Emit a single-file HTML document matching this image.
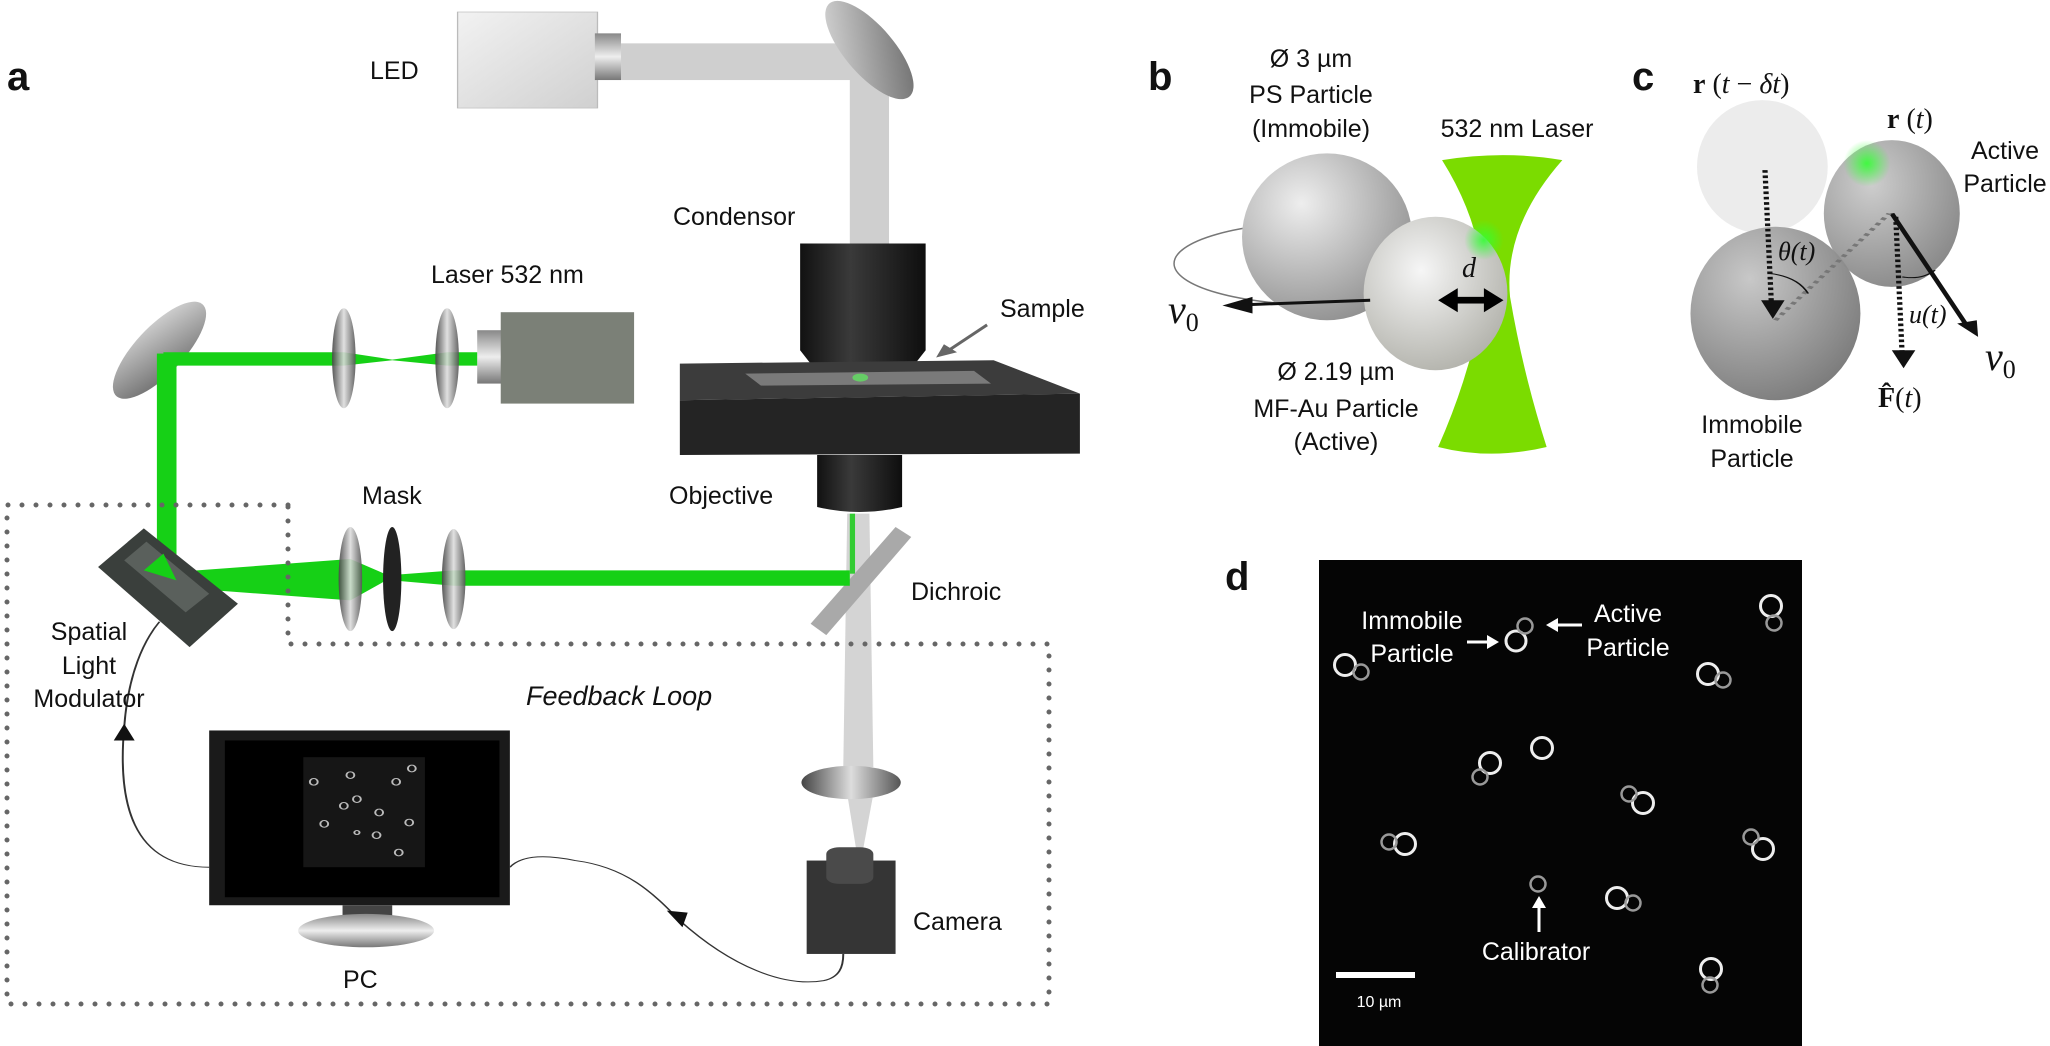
<!DOCTYPE html>
<html><head><meta charset="utf-8"><style>
html,body{margin:0;padding:0;background:#fff;}
#w{position:relative;width:2050px;height:1046px;overflow:hidden;}
svg{position:absolute;left:0;top:0;}
.t{font-family:"Liberation Sans",Arial,sans-serif;font-size:25px;fill:#111;}
.s{font-family:"Liberation Serif",serif;fill:#111;}
</style></head><body><div id="w">
<svg width="2050" height="1046" viewBox="0 0 1568 1568" preserveAspectRatio="none">
<defs>
<linearGradient id="led" x1="0" y1="0" x2="1" y2="1"><stop offset="0" stop-color="#f2f2f2"/><stop offset="1" stop-color="#d0d0d0"/></linearGradient>
<linearGradient id="cyl" x1="0" y1="0" x2="0" y2="1"><stop offset="0" stop-color="#888"/><stop offset=".5" stop-color="#eee"/><stop offset="1" stop-color="#777"/></linearGradient>
<linearGradient id="blk" x1="0" y1="0" x2="1" y2="0"><stop offset="0" stop-color="#111"/><stop offset=".4" stop-color="#3a3a3a"/><stop offset="1" stop-color="#0e0e0e"/></linearGradient>
<linearGradient id="mir" x1="0" y1="0" x2="1" y2="1"><stop offset="0" stop-color="#ddd"/><stop offset="1" stop-color="#666"/></linearGradient>
<linearGradient id="lens" x1="0" y1="0" x2="1" y2="0"><stop offset="0" stop-color="#444"/><stop offset=".5" stop-color="#ddd"/><stop offset="1" stop-color="#555"/></linearGradient>
<radialGradient id="sph" cx=".35" cy=".3" r=".8"><stop offset="0" stop-color="#eee"/><stop offset="1" stop-color="#8a8a8a"/></radialGradient>
<radialGradient id="sphw" cx=".4" cy=".35" r=".8"><stop offset="0" stop-color="#f6f6f6"/><stop offset="1" stop-color="#a8a8a0"/></radialGradient>
<radialGradient id="sphd" cx=".35" cy=".3" r=".8"><stop offset="0" stop-color="#c8c8c8"/><stop offset="1" stop-color="#777"/></radialGradient>
<radialGradient id="glow"><stop offset="0" stop-color="#3f3" stop-opacity=".9"/><stop offset="1" stop-color="#3f3" stop-opacity="0"/></radialGradient>
</defs>
<rect x="475" y="65" width="190" height="55" fill="#cfcfcf"/>
<rect x="650" y="75" width="30" height="295" fill="#cfcfcf"/>
<rect x="350" y="18" width="107" height="144" fill="url(#led)" stroke="#bbb"/>
<rect x="455" y="50" width="20" height="70" fill="url(#cyl)"/>
<ellipse cx="665" cy="75" rx="22" ry="78" transform="rotate(-20 665 75)" fill="url(#mir)"/>
<path d="M612,365 H708 V525 L700,545 H620 L612,525 Z" fill="url(#blk)"/>
<path d="M755,487 L722,530" stroke="#666" stroke-width="3" vector-effect="non-scaling-stroke"/>
<polygon points="716,536 722,516 732,528" fill="#666"/>
<polygon points="520,545 760,540 826,590 520,600" fill="#3c3c3c"/>
<polygon points="520,600 826,590 826,680 520,682" fill="#242424"/>
<polygon points="570,560 745,556 758,575 582,578" fill="#7a7a7a"/>
<ellipse cx="658" cy="566" rx="6" ry="6" fill="#6c6"/>
<path d="M625,682 H690 V760 Q657,775 625,760 Z" fill="url(#blk)"/>
<polygon points="648,770 665,770 668,1150 645,1150" fill="#d4d4d4"/>
<polygon points="648,1190 668,1190 660,1275 655,1275" fill="#d4d4d4"/>
<rect x="650" y="770" width="4" height="90" fill="#3c3"/>
<polygon points="620,935 685,790 697,805 632,952" fill="#a9a9a9"/>
<ellipse cx="651" cy="1173" rx="38" ry="25" fill="url(#lens)"/>
<rect x="617" y="1290" width="68" height="140" fill="#353535"/>
<rect x="632" y="1270" width="36" height="55" rx="10" fill="#4a4a4a"/>
<rect x="365" y="495" width="22" height="80" fill="url(#cyl)"/>
<rect x="383" y="468" width="102" height="137" fill="#7b8077"/>
<ellipse cx="122" cy="525" rx="22" ry="78" transform="rotate(22 122 525)" fill="url(#mir)"/>
<polygon points="125,528 263,528 300,539 342,528 365,528 365,548 342,548 300,540 263,548 125,548" fill="#16d016"/>
<rect x="120" y="530" width="15" height="335" fill="#16d016"/>
<polygon points="130,858 268,838 300,865 268,900 130,880" fill="#16d016"/>
<polygon points="300,862 347,855 650,855 650,878 347,878 300,870" fill="#16d016"/>
<ellipse cx="263" cy="537" rx="9" ry="75" fill="url(#lens)" opacity=".9"/>
<ellipse cx="342" cy="537" rx="9" ry="75" fill="url(#lens)" opacity=".9"/>
<ellipse cx="268" cy="868" rx="9" ry="78" fill="url(#lens)" opacity=".9"/>
<ellipse cx="300" cy="868" rx="7" ry="78" fill="#222"/>
<ellipse cx="347" cy="868" rx="9" ry="75" fill="url(#lens)" opacity=".9"/>
<polygon points="75,850 110,792 182,905 145,970" fill="#3a3f3c"/>
<polygon points="95,840 112,812 160,890 142,918" fill="#5a605c"/>
<polygon points="110,855 125,830 135,870" fill="#16d016"/>
<rect x="160" y="1095" width="230" height="262" fill="#1a1a1a"/>
<rect x="172" y="1110" width="210" height="235" fill="#000"/>
<rect x="232" y="1135" width="93" height="165" fill="#161616"/>
<rect x="262" y="1357" width="38" height="25" fill="#444"/>
<ellipse cx="280" cy="1395" rx="52" ry="25" fill="url(#cyl)"/>
<g fill="none" stroke="#bbb" stroke-width="1.5" vector-effect="non-scaling-stroke">
<ellipse cx="240" cy="1172" rx="3" ry="5"/><ellipse cx="268" cy="1162" rx="3" ry="5"/><ellipse cx="315" cy="1152" rx="3" ry="5"/><ellipse cx="303" cy="1172" rx="3" ry="5"/><ellipse cx="273" cy="1198" rx="3" ry="5"/><ellipse cx="263" cy="1208" rx="3" ry="5"/><ellipse cx="290" cy="1218" rx="3" ry="5"/><ellipse cx="248" cy="1235" rx="3" ry="5"/><ellipse cx="313" cy="1233" rx="3" ry="5"/><ellipse cx="288" cy="1252" rx="3" ry="5"/><ellipse cx="305" cy="1278" rx="3" ry="5"/><ellipse cx="273" cy="1248" rx="2" ry="3"/>
</g>
<g fill="none" stroke="#333" stroke-width="1.5" vector-effect="non-scaling-stroke">
<path d="M160,1300 C100,1300 90,1200 95,1090 C98,1010 110,960 122,932"/>
<path d="M390,1300 C400,1280 420,1282 440,1290 C480,1300 500,1340 520,1380 C560,1450 600,1480 630,1470 C642,1465 645,1450 645,1430"/>
</g>
<polygon points="95,1085 87,1110 103,1110" fill="#111"/>
<polygon points="522,1390 510,1365 526,1368" fill="#111"/>
<ellipse cx="1010" cy="395" rx="112" ry="62" fill="none" stroke="#777" stroke-width="1.5" vector-effect="non-scaling-stroke"/>
<ellipse cx="1015" cy="355" rx="65" ry="125" fill="url(#sph)"/>
<path d="M1103,240 Q1150,225 1195,240 Q1150,340 1155,445 Q1165,560 1183,670 Q1140,690 1100,670 Q1125,560 1135,445 Q1135,340 1103,240 Z" fill="#7bdc00"/>
<ellipse cx="1098" cy="440" rx="55" ry="115" fill="url(#sphw)"/>
<ellipse cx="1135" cy="360" rx="15" ry="30" fill="url(#glow)"/>
<path d="M1048,450 L950,457" stroke="#111" stroke-width="3" vector-effect="non-scaling-stroke"/>
<polygon points="935,458 958,445 958,470" fill="#111"/>
<rect x="1110" y="445" width="28" height="10" fill="#000"/>
<polygon points="1100,450 1115,432 1115,468" fill="#000"/><polygon points="1150,450 1135,432 1135,468" fill="#000"/>
<ellipse cx="1348" cy="250" rx="50" ry="100" fill="#ececec"/>
<ellipse cx="1358" cy="470" rx="65" ry="130" fill="url(#sphd)"/>
<ellipse cx="1447" cy="320" rx="52" ry="110" fill="url(#sphd)" opacity=".9"/>
<ellipse cx="1428" cy="245" rx="18" ry="35" fill="url(#glow)"/>
<g stroke="#111" stroke-width="4" vector-effect="non-scaling-stroke" fill="none">
<path d="M1350,255 L1355,460" stroke-dasharray="4 4"/>
<path d="M1450,325 L1455,535" stroke-dasharray="4 4"/>
<path d="M1447,320 L1505,490"/>
<path d="M1358,480 L1445,320" stroke="#777" stroke-dasharray="4 5"/>
<path d="M1354,410 Q1375,415 1383,440" stroke-width="1.5"/>
<path d="M1455,415 Q1470,420 1480,405" stroke-width="1.5"/>
</g>
<polygon points="1356,478 1347,450 1365,450" fill="#111"/>
<polygon points="1456,552 1447,525 1465,525" fill="#111"/>
<polygon points="1513,505 1497,485 1512,480" fill="#111"/>
</svg>
<svg width="2050" height="1046" viewBox="0 0 2050 1046">
<path d="M288,505 H7 V1004 H1049 V644 H288 Z" fill="none" stroke="#666" stroke-width="5" stroke-linecap="round" stroke-dasharray="0 14"/>
<text class="t" x="7" y="90" style="font-size:40px;font-weight:bold">a</text>
<text class="t" x="370" y="79">LED</text>
<text class="t" x="673" y="225">Condensor</text>
<text class="t" x="431" y="283">Laser 532 nm</text>
<text class="t" x="1000" y="317">Sample</text>
<text class="t" x="362" y="504">Mask</text>
<text class="t" x="669" y="504">Objective</text>
<text class="t" x="911" y="600">Dichroic</text>
<text class="t" x="89" y="640" text-anchor="middle">Spatial</text>
<text class="t" x="89" y="674" text-anchor="middle">Light</text>
<text class="t" x="89" y="707" text-anchor="middle">Modulator</text>
<text class="t" x="526" y="705" style="font-style:italic;font-size:27px">Feedback Loop</text>
<text class="t" x="913" y="930">Camera</text>
<text class="t" x="343" y="988">PC</text>
<text class="t" x="1148" y="90" style="font-size:40px;font-weight:bold">b</text>
<text class="t" x="1311" y="67" text-anchor="middle">Ø 3 µm</text>
<text class="t" x="1311" y="103" text-anchor="middle">PS Particle</text>
<text class="t" x="1311" y="137" text-anchor="middle">(Immobile)</text>
<text class="t" x="1517" y="137" text-anchor="middle">532 nm Laser</text>
<text class="s" x="1168" y="323" style="font-size:40px;font-style:italic">v<tspan font-size="26" dy="8" font-style="normal">0</tspan></text>
<text class="s" x="1462" y="277" style="font-size:28px;font-style:italic">d</text>
<text class="t" x="1336" y="380" text-anchor="middle">Ø 2.19 µm</text>
<text class="t" x="1336" y="417" text-anchor="middle">MF-Au Particle</text>
<text class="t" x="1336" y="450" text-anchor="middle">(Active)</text>
<text class="t" x="1632" y="90" style="font-size:40px;font-weight:bold">c</text>
<text class="s" x="1693" y="93" style="font-size:28px"><tspan font-weight="bold">r</tspan> (<tspan font-style="italic">t</tspan> − <tspan font-style="italic">δt</tspan>)</text>
<text class="s" x="1887" y="128" style="font-size:28px"><tspan font-weight="bold">r</tspan> (<tspan font-style="italic">t</tspan>)</text>
<text class="t" x="2005" y="159" text-anchor="middle">Active</text>
<text class="t" x="2005" y="192" text-anchor="middle">Particle</text>
<text class="s" x="1778" y="260" style="font-size:26px;font-style:italic">θ(t)</text>
<text class="s" x="1909" y="323" style="font-size:26px;font-style:italic">u(t)</text>
<text class="s" x="1985" y="370" style="font-size:40px;font-style:italic">v<tspan font-size="26" dy="8" font-style="normal">0</tspan></text>
<text class="s" x="1878" y="407" style="font-size:28px"><tspan font-weight="bold">F̂</tspan>(<tspan font-style="italic">t</tspan>)</text>
<text class="t" x="1752" y="433" text-anchor="middle">Immobile</text>
<text class="t" x="1752" y="467" text-anchor="middle">Particle</text>
<text class="t" x="1225" y="590" style="font-size:40px;font-weight:bold">d</text>
<rect x="1319" y="560" width="483" height="486" fill="#050505"/>
<g fill="none">
<g stroke="#eee" stroke-width="3">
<circle cx="1345" cy="665" r="10.5"/><circle cx="1516" cy="641" r="10"/><circle cx="1771" cy="606" r="10.5"/><circle cx="1708" cy="674" r="10.5"/><circle cx="1542" cy="748" r="10.5"/><circle cx="1490" cy="763" r="10.5"/><circle cx="1643" cy="803" r="10.5"/><circle cx="1405" cy="844" r="10.5"/><circle cx="1763" cy="849" r="10.5"/><circle cx="1617" cy="898" r="10.5"/><circle cx="1711" cy="969" r="10.5"/>
</g>
<g stroke="#999" stroke-width="2.5">
<circle cx="1361" cy="672" r="7.5"/><circle cx="1525" cy="626" r="7.5"/><circle cx="1774" cy="623" r="7.5"/><circle cx="1723" cy="680" r="7.5"/><circle cx="1480" cy="777" r="7.5"/><circle cx="1629" cy="794" r="7.5"/><circle cx="1389" cy="842" r="7.5"/><circle cx="1751" cy="837" r="7.5"/><circle cx="1538" cy="884" r="7.5"/><circle cx="1633" cy="903" r="7.5"/><circle cx="1710" cy="985" r="7.5"/>
</g>
</g>
<g stroke="#fff" stroke-width="3"><path d="M1467,642 H1490"/><path d="M1582,625 H1555"/><path d="M1539,932 V905"/></g>
<g fill="#fff"><polygon points="1499,642 1487,635 1487,649"/><polygon points="1546,625 1558,618 1558,632"/><polygon points="1539,896 1532,908 1546,908"/></g>
<text class="t" x="1412" y="629" text-anchor="middle" style="fill:#fff">Immobile</text>
<text class="t" x="1412" y="662" text-anchor="middle" style="fill:#fff">Particle</text>
<text class="t" x="1628" y="622" text-anchor="middle" style="fill:#fff">Active</text>
<text class="t" x="1628" y="656" text-anchor="middle" style="fill:#fff">Particle</text>
<text class="t" x="1536" y="960" text-anchor="middle" style="fill:#fff">Calibrator</text>
<rect x="1336" y="972" width="79" height="6" fill="#fff"/>
<text class="t" x="1379" y="1007" text-anchor="middle" style="fill:#fff;font-size:16px">10 µm</text>
</svg>
</div></body></html>
